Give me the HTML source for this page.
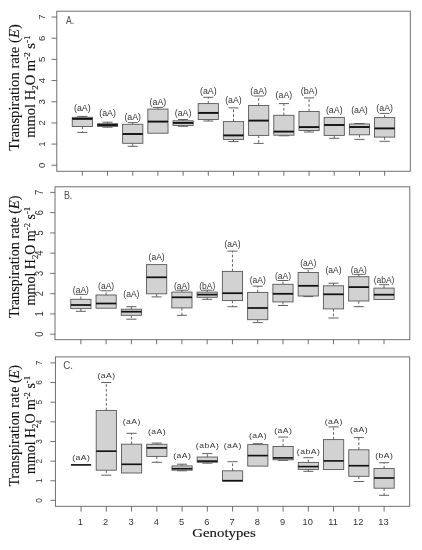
<!DOCTYPE html>
<html lang="en">
<head>
<meta charset="utf-8">
<title>Transpiration rate by genotype</title>
<style>
html,body{margin:0;padding:0;background:#fff;}
body{width:422px;height:550px;overflow:hidden;}
svg{display:block;filter:blur(0.35px);}
.sans{font-family:"Liberation Sans","DejaVu Sans",sans-serif;fill:#333333;text-anchor:middle;}
.pl{fill:#4f4f4f;}
.serif{font-family:"Liberation Serif","DejaVu Serif",serif;fill:#111;stroke:#111;stroke-width:0.12;}
.ln{stroke:#606060;stroke-width:0.9;fill:none;}
.box{stroke:#585858;stroke-width:0.9;fill:#d2d2d2;}
.med{stroke:#111;fill:none;}
.wh{stroke:#505050;stroke-width:0.9;fill:none;stroke-dasharray:2.7 2;}
.cap{stroke:#505050;stroke-width:0.9;fill:none;}
</style>
</head>
<body>
<svg width="422" height="550" viewBox="0 0 422 550">
<rect x="0" y="0" width="422" height="550" fill="#ffffff"/>

<g id="panel-A">
<rect class="ln" x="56.8" y="11.2" width="353.5" height="160.05"/>
<line class="ln" x1="51.5" y1="165.25" x2="56.8" y2="165.25"/>
<text class="sans" font-size="9.6" transform="translate(44.6 165.25) rotate(-90)">0</text>
<line class="ln" x1="51.5" y1="144.08" x2="56.8" y2="144.08"/>
<text class="sans" font-size="9.6" transform="translate(44.6 144.08) rotate(-90)">1</text>
<line class="ln" x1="51.5" y1="122.91" x2="56.8" y2="122.91"/>
<text class="sans" font-size="9.6" transform="translate(44.6 122.91) rotate(-90)">2</text>
<line class="ln" x1="51.5" y1="101.74" x2="56.8" y2="101.74"/>
<text class="sans" font-size="9.6" transform="translate(44.6 101.74) rotate(-90)">3</text>
<line class="ln" x1="51.5" y1="80.57" x2="56.8" y2="80.57"/>
<text class="sans" font-size="9.6" transform="translate(44.6 80.57) rotate(-90)">4</text>
<line class="ln" x1="51.5" y1="59.4" x2="56.8" y2="59.4"/>
<text class="sans" font-size="9.6" transform="translate(44.6 59.4) rotate(-90)">5</text>
<line class="ln" x1="51.5" y1="38.23" x2="56.8" y2="38.23"/>
<text class="sans" font-size="9.6" transform="translate(44.6 38.23) rotate(-90)">6</text>
<line class="ln" x1="51.5" y1="17.06" x2="56.8" y2="17.06"/>
<text class="sans" font-size="9.6" transform="translate(44.6 17.06) rotate(-90)">7</text>
<line class="ln" x1="82.35" y1="171.25" x2="82.35" y2="175.75"/>
<line class="ln" x1="107.54" y1="171.25" x2="107.54" y2="175.75"/>
<line class="ln" x1="132.73" y1="171.25" x2="132.73" y2="175.75"/>
<line class="ln" x1="157.92" y1="171.25" x2="157.92" y2="175.75"/>
<line class="ln" x1="183.11" y1="171.25" x2="183.11" y2="175.75"/>
<line class="ln" x1="208.3" y1="171.25" x2="208.3" y2="175.75"/>
<line class="ln" x1="233.49" y1="171.25" x2="233.49" y2="175.75"/>
<line class="ln" x1="258.68" y1="171.25" x2="258.68" y2="175.75"/>
<line class="ln" x1="283.87" y1="171.25" x2="283.87" y2="175.75"/>
<line class="ln" x1="309.06" y1="171.25" x2="309.06" y2="175.75"/>
<line class="ln" x1="334.25" y1="171.25" x2="334.25" y2="175.75"/>
<line class="ln" x1="359.44" y1="171.25" x2="359.44" y2="175.75"/>
<line class="ln" x1="384.63" y1="171.25" x2="384.63" y2="175.75"/>
<text class="sans pl" font-size="10.3" transform="translate(66 23.6) scale(0.84 1)" style="text-anchor:start;">A.</text>
<line class="wh" x1="82.35" y1="117.3" x2="82.35" y2="116.4"/>
<line class="cap" x1="77.3" y1="116.4" x2="87.4" y2="116.4"/>
<line class="wh" x1="82.35" y1="126.5" x2="82.35" y2="132.4"/>
<line class="cap" x1="77.3" y1="132.4" x2="87.4" y2="132.4"/>
<rect class="box" x="72.25" y="117.3" width="20.2" height="9.2"/>
<line class="med" stroke-width="1.9" x1="72.25" y1="118.9" x2="92.45" y2="118.9"/>
<text class="sans" font-size="8.8" transform="translate(82.35 111.45)">(aA)</text>
<line class="wh" x1="107.54" y1="123.7" x2="107.54" y2="122.2"/>
<line class="cap" x1="102.49" y1="122.2" x2="112.59" y2="122.2"/>
<line class="wh" x1="107.54" y1="126.4" x2="107.54" y2="127.2"/>
<line class="cap" x1="102.49" y1="127.2" x2="112.59" y2="127.2"/>
<rect class="box" x="97.44" y="123.7" width="20.2" height="2.7"/>
<line class="med" stroke-width="1.9" x1="97.44" y1="125" x2="117.64" y2="125"/>
<text class="sans" font-size="8.8" transform="translate(107.54 115.65)">(aA)</text>
<line class="wh" x1="132.73" y1="124.3" x2="132.73" y2="122.6"/>
<line class="cap" x1="127.68" y1="122.6" x2="137.78" y2="122.6"/>
<line class="wh" x1="132.73" y1="143.3" x2="132.73" y2="146.3"/>
<line class="cap" x1="127.68" y1="146.3" x2="137.78" y2="146.3"/>
<rect class="box" x="122.63" y="124.3" width="20.2" height="19"/>
<line class="med" stroke-width="1.9" x1="122.63" y1="134" x2="142.83" y2="134"/>
<text class="sans" font-size="8.8" transform="translate(132.73 120.05)">(aA)</text>
<line class="wh" x1="157.92" y1="109.1" x2="157.92" y2="107.4"/>
<line class="cap" x1="152.87" y1="107.4" x2="162.97" y2="107.4"/>
<rect class="box" x="147.82" y="109.1" width="20.2" height="24.1"/>
<line class="med" stroke-width="1.9" x1="147.82" y1="121.6" x2="168.02" y2="121.6"/>
<text class="sans" font-size="8.8" transform="translate(157.92 105.05)">(aA)</text>
<line class="wh" x1="183.11" y1="120.8" x2="183.11" y2="119.5"/>
<line class="cap" x1="178.06" y1="119.5" x2="188.16" y2="119.5"/>
<line class="wh" x1="183.11" y1="125.4" x2="183.11" y2="126.3"/>
<line class="cap" x1="178.06" y1="126.3" x2="188.16" y2="126.3"/>
<rect class="box" x="173.01" y="120.8" width="20.2" height="4.6"/>
<line class="med" stroke-width="1.9" x1="173.01" y1="122.9" x2="193.21" y2="122.9"/>
<text class="sans" font-size="8.8" transform="translate(183.11 115.85)">(aA)</text>
<line class="wh" x1="208.3" y1="103.6" x2="208.3" y2="97.3"/>
<line class="cap" x1="203.25" y1="97.3" x2="213.35" y2="97.3"/>
<line class="wh" x1="208.3" y1="119.5" x2="208.3" y2="121"/>
<line class="cap" x1="203.25" y1="121" x2="213.35" y2="121"/>
<rect class="box" x="198.2" y="103.6" width="20.2" height="15.9"/>
<line class="med" stroke-width="1.9" x1="198.2" y1="112.9" x2="218.4" y2="112.9"/>
<text class="sans" font-size="8.8" transform="translate(208.3 94.25)">(aA)</text>
<line class="wh" x1="233.49" y1="121.6" x2="233.49" y2="107.9"/>
<line class="cap" x1="228.44" y1="107.9" x2="238.54" y2="107.9"/>
<line class="wh" x1="233.49" y1="139.4" x2="233.49" y2="141.5"/>
<line class="cap" x1="228.44" y1="141.5" x2="238.54" y2="141.5"/>
<rect class="box" x="223.39" y="121.6" width="20.2" height="17.8"/>
<line class="med" stroke-width="1.9" x1="223.39" y1="135.4" x2="243.59" y2="135.4"/>
<text class="sans" font-size="8.8" transform="translate(233.49 103.15)">(aA)</text>
<line class="wh" x1="258.68" y1="105.5" x2="258.68" y2="96"/>
<line class="cap" x1="253.63" y1="96" x2="263.73" y2="96"/>
<line class="wh" x1="258.68" y1="135.4" x2="258.68" y2="143.4"/>
<line class="cap" x1="253.63" y1="143.4" x2="263.73" y2="143.4"/>
<rect class="box" x="248.58" y="105.5" width="20.2" height="29.9"/>
<line class="med" stroke-width="1.9" x1="248.58" y1="120.6" x2="268.78" y2="120.6"/>
<text class="sans" font-size="8.8" transform="translate(258.68 94.05)">(aA)</text>
<line class="wh" x1="283.87" y1="115.3" x2="283.87" y2="103.6"/>
<line class="cap" x1="278.82" y1="103.6" x2="288.92" y2="103.6"/>
<line class="wh" x1="283.87" y1="135.2" x2="283.87" y2="135.8"/>
<line class="cap" x1="278.82" y1="135.8" x2="288.92" y2="135.8"/>
<rect class="box" x="273.77" y="115.3" width="20.2" height="19.9"/>
<line class="med" stroke-width="1.9" x1="273.77" y1="131.6" x2="293.97" y2="131.6"/>
<text class="sans" font-size="8.8" transform="translate(283.87 98.35)">(aA)</text>
<line class="wh" x1="309.06" y1="111.5" x2="309.06" y2="97.9"/>
<line class="cap" x1="304.01" y1="97.9" x2="314.11" y2="97.9"/>
<line class="wh" x1="309.06" y1="130.5" x2="309.06" y2="132"/>
<line class="cap" x1="304.01" y1="132" x2="314.11" y2="132"/>
<rect class="box" x="298.96" y="111.5" width="20.2" height="19"/>
<line class="med" stroke-width="1.9" x1="298.96" y1="127.1" x2="319.16" y2="127.1"/>
<text class="sans" font-size="8.8" transform="translate(309.06 94.25)">(bA)</text>
<line class="wh" x1="334.25" y1="135.4" x2="334.25" y2="138.3"/>
<line class="cap" x1="329.2" y1="138.3" x2="339.3" y2="138.3"/>
<rect class="box" x="324.15" y="117.4" width="20.2" height="18"/>
<line class="med" stroke-width="1.9" x1="324.15" y1="125" x2="344.35" y2="125"/>
<text class="sans" font-size="8.8" transform="translate(334.25 113.15)">(aA)</text>
<line class="wh" x1="359.44" y1="124" x2="359.44" y2="123.5"/>
<line class="cap" x1="354.39" y1="123.5" x2="364.49" y2="123.5"/>
<line class="wh" x1="359.44" y1="134.8" x2="359.44" y2="139.4"/>
<line class="cap" x1="354.39" y1="139.4" x2="364.49" y2="139.4"/>
<rect class="box" x="349.34" y="124" width="20.2" height="10.8"/>
<line class="med" stroke-width="1.9" x1="349.34" y1="127" x2="369.54" y2="127"/>
<text class="sans" font-size="8.8" transform="translate(359.44 113.15)">(aA)</text>
<line class="wh" x1="384.63" y1="117.6" x2="384.63" y2="113.4"/>
<line class="cap" x1="379.58" y1="113.4" x2="389.68" y2="113.4"/>
<line class="wh" x1="384.63" y1="137.1" x2="384.63" y2="141.3"/>
<line class="cap" x1="379.58" y1="141.3" x2="389.68" y2="141.3"/>
<rect class="box" x="374.53" y="117.6" width="20.2" height="19.5"/>
<line class="med" stroke-width="1.9" x1="374.53" y1="128.4" x2="394.73" y2="128.4"/>
<text class="sans" font-size="8.8" transform="translate(384.63 111.25)">(aA)</text>
<text class="serif" font-size="14" text-anchor="middle" transform="translate(19.3 87.5) rotate(-90)" textLength="126.6" lengthAdjust="spacingAndGlyphs">Transpiration rate (<tspan font-style="italic">E</tspan>)</text>
<text class="serif" font-size="14" text-anchor="middle" transform="translate(35.2 86.65) rotate(-90)" textLength="102.3" lengthAdjust="spacingAndGlyphs">mmol H<tspan font-size="8.68" dy="2.8">2</tspan><tspan dy="-2.8">O m</tspan><tspan font-size="8.68" dy="-5">-2</tspan><tspan dy="5"> s</tspan><tspan font-size="8.68" dy="-5">-1</tspan></text>
</g>
<g id="panel-B">
<rect class="ln" x="55" y="186.8" width="354.8" height="152.9"/>
<line class="ln" x1="50.2" y1="334.2" x2="55" y2="334.2"/>
<text class="sans" font-size="9.27" transform="translate(42.6 334.2) rotate(-90) scale(1 1.1)">0</text>
<line class="ln" x1="50.2" y1="313.94" x2="55" y2="313.94"/>
<text class="sans" font-size="9.27" transform="translate(42.6 313.94) rotate(-90) scale(1 1.1)">1</text>
<line class="ln" x1="50.2" y1="293.68" x2="55" y2="293.68"/>
<text class="sans" font-size="9.27" transform="translate(42.6 293.68) rotate(-90) scale(1 1.1)">2</text>
<line class="ln" x1="50.2" y1="273.42" x2="55" y2="273.42"/>
<text class="sans" font-size="9.27" transform="translate(42.6 273.42) rotate(-90) scale(1 1.1)">3</text>
<line class="ln" x1="50.2" y1="253.16" x2="55" y2="253.16"/>
<text class="sans" font-size="9.27" transform="translate(42.6 253.16) rotate(-90) scale(1 1.1)">4</text>
<line class="ln" x1="50.2" y1="232.9" x2="55" y2="232.9"/>
<text class="sans" font-size="9.27" transform="translate(42.6 232.9) rotate(-90) scale(1 1.1)">5</text>
<line class="ln" x1="50.2" y1="212.64" x2="55" y2="212.64"/>
<text class="sans" font-size="9.27" transform="translate(42.6 212.64) rotate(-90) scale(1 1.1)">6</text>
<line class="ln" x1="50.2" y1="192.38" x2="55" y2="192.38"/>
<text class="sans" font-size="9.27" transform="translate(42.6 192.38) rotate(-90) scale(1 1.1)">7</text>
<line class="ln" x1="80.85" y1="339.7" x2="80.85" y2="344.2"/>
<line class="ln" x1="106.11" y1="339.7" x2="106.11" y2="344.2"/>
<line class="ln" x1="131.38" y1="339.7" x2="131.38" y2="344.2"/>
<line class="ln" x1="156.64" y1="339.7" x2="156.64" y2="344.2"/>
<line class="ln" x1="181.91" y1="339.7" x2="181.91" y2="344.2"/>
<line class="ln" x1="207.18" y1="339.7" x2="207.18" y2="344.2"/>
<line class="ln" x1="232.44" y1="339.7" x2="232.44" y2="344.2"/>
<line class="ln" x1="257.71" y1="339.7" x2="257.71" y2="344.2"/>
<line class="ln" x1="282.97" y1="339.7" x2="282.97" y2="344.2"/>
<line class="ln" x1="308.24" y1="339.7" x2="308.24" y2="344.2"/>
<line class="ln" x1="333.5" y1="339.7" x2="333.5" y2="344.2"/>
<line class="ln" x1="358.76" y1="339.7" x2="358.76" y2="344.2"/>
<line class="ln" x1="384.03" y1="339.7" x2="384.03" y2="344.2"/>
<text class="sans pl" font-size="11.2" transform="translate(63.9 198.5) scale(0.8 1)" style="text-anchor:start;">B.</text>
<line class="wh" x1="80.85" y1="299.3" x2="80.85" y2="294.4"/>
<line class="cap" x1="75.8" y1="294.4" x2="85.9" y2="294.4"/>
<line class="wh" x1="80.85" y1="308.6" x2="80.85" y2="311.3"/>
<line class="cap" x1="75.8" y1="311.3" x2="85.9" y2="311.3"/>
<rect class="box" x="70.75" y="299.3" width="20.2" height="9.3"/>
<line class="med" stroke-width="1.75" x1="70.75" y1="305" x2="90.95" y2="305"/>
<text class="sans" font-size="8.5" transform="translate(80.85 293.05)">(aA)</text>
<line class="wh" x1="106.11" y1="295" x2="106.11" y2="290.8"/>
<line class="cap" x1="101.06" y1="290.8" x2="111.16" y2="290.8"/>
<rect class="box" x="96.02" y="295" width="20.2" height="13.2"/>
<line class="med" stroke-width="1.75" x1="96.02" y1="303.5" x2="116.21" y2="303.5"/>
<text class="sans" font-size="8.5" transform="translate(106.11 288.95)">(aA)</text>
<line class="wh" x1="131.38" y1="309.2" x2="131.38" y2="306.7"/>
<line class="cap" x1="126.33" y1="306.7" x2="136.43" y2="306.7"/>
<line class="wh" x1="131.38" y1="315.3" x2="131.38" y2="319.2"/>
<line class="cap" x1="126.33" y1="319.2" x2="136.43" y2="319.2"/>
<rect class="box" x="121.28" y="309.2" width="20.2" height="6.1"/>
<line class="med" stroke-width="1.75" x1="121.28" y1="311.7" x2="141.48" y2="311.7"/>
<text class="sans" font-size="8.5" transform="translate(131.38 297.25)">(aA)</text>
<line class="wh" x1="156.64" y1="293.8" x2="156.64" y2="296.9"/>
<line class="cap" x1="151.59" y1="296.9" x2="161.69" y2="296.9"/>
<rect class="box" x="146.54" y="264.6" width="20.2" height="29.2"/>
<line class="med" stroke-width="1.75" x1="146.54" y1="277.3" x2="166.74" y2="277.3"/>
<text class="sans" font-size="8.5" transform="translate(156.64 260.45)">(aA)</text>
<line class="wh" x1="181.91" y1="292.1" x2="181.91" y2="290.2"/>
<line class="cap" x1="176.86" y1="290.2" x2="186.96" y2="290.2"/>
<line class="wh" x1="181.91" y1="307.9" x2="181.91" y2="315.3"/>
<line class="cap" x1="176.86" y1="315.3" x2="186.96" y2="315.3"/>
<rect class="box" x="171.81" y="292.1" width="20.2" height="15.8"/>
<line class="med" stroke-width="1.75" x1="171.81" y1="297.3" x2="192.01" y2="297.3"/>
<text class="sans" font-size="8.5" transform="translate(181.91 288.95)">(aA)</text>
<line class="wh" x1="207.18" y1="292.1" x2="207.18" y2="290.2"/>
<line class="cap" x1="202.12" y1="290.2" x2="212.23" y2="290.2"/>
<line class="wh" x1="207.18" y1="297.3" x2="207.18" y2="299.3"/>
<line class="cap" x1="202.12" y1="299.3" x2="212.23" y2="299.3"/>
<rect class="box" x="197.08" y="292.1" width="20.2" height="5.2"/>
<line class="med" stroke-width="1.75" x1="197.08" y1="294.6" x2="217.28" y2="294.6"/>
<text class="sans" font-size="8.5" transform="translate(207.18 288.95)">(bA)</text>
<line class="wh" x1="232.44" y1="271.4" x2="232.44" y2="251.1"/>
<line class="cap" x1="227.39" y1="251.1" x2="237.49" y2="251.1"/>
<line class="wh" x1="232.44" y1="300.6" x2="232.44" y2="306.7"/>
<line class="cap" x1="227.39" y1="306.7" x2="237.49" y2="306.7"/>
<rect class="box" x="222.34" y="271.4" width="20.2" height="29.2"/>
<line class="med" stroke-width="1.75" x1="222.34" y1="293.2" x2="242.54" y2="293.2"/>
<text class="sans" font-size="8.5" transform="translate(232.44 246.75)">(aA)</text>
<line class="wh" x1="257.71" y1="292.4" x2="257.71" y2="286.2"/>
<line class="cap" x1="252.66" y1="286.2" x2="262.76" y2="286.2"/>
<line class="wh" x1="257.71" y1="319.7" x2="257.71" y2="322.6"/>
<line class="cap" x1="252.66" y1="322.6" x2="262.76" y2="322.6"/>
<rect class="box" x="247.61" y="292.4" width="20.2" height="27.3"/>
<line class="med" stroke-width="1.75" x1="247.61" y1="308" x2="267.81" y2="308"/>
<text class="sans" font-size="8.5" transform="translate(257.71 283.35)">(aA)</text>
<line class="wh" x1="282.97" y1="284.3" x2="282.97" y2="280.5"/>
<line class="cap" x1="277.92" y1="280.5" x2="288.02" y2="280.5"/>
<line class="wh" x1="282.97" y1="301.9" x2="282.97" y2="305.5"/>
<line class="cap" x1="277.92" y1="305.5" x2="288.02" y2="305.5"/>
<rect class="box" x="272.87" y="284.3" width="20.2" height="17.6"/>
<line class="med" stroke-width="1.75" x1="272.87" y1="293.8" x2="293.07" y2="293.8"/>
<text class="sans" font-size="8.5" transform="translate(282.97 278.95)">(aA)</text>
<line class="wh" x1="308.24" y1="272.5" x2="308.24" y2="268.7"/>
<line class="cap" x1="303.19" y1="268.7" x2="313.29" y2="268.7"/>
<line class="wh" x1="308.24" y1="296" x2="308.24" y2="296.6"/>
<line class="cap" x1="303.19" y1="296.6" x2="313.29" y2="296.6"/>
<rect class="box" x="298.13" y="272.5" width="20.2" height="23.5"/>
<line class="med" stroke-width="1.75" x1="298.13" y1="285.8" x2="318.34" y2="285.8"/>
<text class="sans" font-size="8.5" transform="translate(308.24 266.25)">(aA)</text>
<line class="wh" x1="333.5" y1="285.8" x2="333.5" y2="283.2"/>
<line class="cap" x1="328.45" y1="283.2" x2="338.55" y2="283.2"/>
<line class="wh" x1="333.5" y1="308.9" x2="333.5" y2="318"/>
<line class="cap" x1="328.45" y1="318" x2="338.55" y2="318"/>
<rect class="box" x="323.4" y="285.8" width="20.2" height="23.1"/>
<line class="med" stroke-width="1.75" x1="323.4" y1="294.3" x2="343.6" y2="294.3"/>
<text class="sans" font-size="8.5" transform="translate(333.5 272.55)">(aA)</text>
<line class="wh" x1="358.76" y1="276.7" x2="358.76" y2="274.4"/>
<line class="cap" x1="353.71" y1="274.4" x2="363.81" y2="274.4"/>
<line class="wh" x1="358.76" y1="301" x2="358.76" y2="306.7"/>
<line class="cap" x1="353.71" y1="306.7" x2="363.81" y2="306.7"/>
<rect class="box" x="348.66" y="276.7" width="20.2" height="24.3"/>
<line class="med" stroke-width="1.75" x1="348.66" y1="287.1" x2="368.87" y2="287.1"/>
<text class="sans" font-size="8.5" transform="translate(358.76 272.55)">(aA)</text>
<line class="wh" x1="384.03" y1="288.1" x2="384.03" y2="284.7"/>
<line class="cap" x1="378.98" y1="284.7" x2="389.08" y2="284.7"/>
<rect class="box" x="373.93" y="288.1" width="20.2" height="11.4"/>
<line class="med" stroke-width="1.75" x1="373.93" y1="294.7" x2="394.13" y2="294.7"/>
<text class="sans" font-size="8.5" transform="translate(384.03 282.75)">(abA)</text>
<text class="serif" font-size="14" text-anchor="middle" transform="translate(19.3 256.8) rotate(-90)" textLength="122.6" lengthAdjust="spacingAndGlyphs">Transpiration rate (<tspan font-style="italic">E</tspan>)</text>
<text class="serif" font-size="14" text-anchor="middle" transform="translate(35.1 256.1) rotate(-90)" textLength="98.6" lengthAdjust="spacingAndGlyphs">mmol H<tspan font-size="8.68" dy="2.8">2</tspan><tspan dy="-2.8">O m</tspan><tspan font-size="8.68" dy="-5">-2</tspan><tspan dy="5"> s</tspan><tspan font-size="8.68" dy="-5">-1</tspan></text>
</g>
<g id="panel-C">
<rect class="ln" x="55.4" y="356.9" width="354.3" height="149.4"/>
<line class="ln" x1="50.4" y1="500.4" x2="55.4" y2="500.4"/>
<text class="sans" font-size="9.16" transform="translate(41.6 500.4) rotate(-90) scale(0.9 1.09)">0</text>
<line class="ln" x1="50.4" y1="480.76" x2="55.4" y2="480.76"/>
<text class="sans" font-size="9.16" transform="translate(41.6 480.76) rotate(-90) scale(0.9 1.09)">1</text>
<line class="ln" x1="50.4" y1="461.12" x2="55.4" y2="461.12"/>
<text class="sans" font-size="9.16" transform="translate(41.6 461.12) rotate(-90) scale(0.9 1.09)">2</text>
<line class="ln" x1="50.4" y1="441.48" x2="55.4" y2="441.48"/>
<text class="sans" font-size="9.16" transform="translate(41.6 441.48) rotate(-90) scale(0.9 1.09)">3</text>
<line class="ln" x1="50.4" y1="421.84" x2="55.4" y2="421.84"/>
<text class="sans" font-size="9.16" transform="translate(41.6 421.84) rotate(-90) scale(0.9 1.09)">4</text>
<line class="ln" x1="50.4" y1="402.2" x2="55.4" y2="402.2"/>
<text class="sans" font-size="9.16" transform="translate(41.6 402.2) rotate(-90) scale(0.9 1.09)">5</text>
<line class="ln" x1="50.4" y1="382.56" x2="55.4" y2="382.56"/>
<text class="sans" font-size="9.16" transform="translate(41.6 382.56) rotate(-90) scale(0.9 1.09)">6</text>
<line class="ln" x1="50.4" y1="362.92" x2="55.4" y2="362.92"/>
<text class="sans" font-size="9.16" transform="translate(41.6 362.92) rotate(-90) scale(0.9 1.09)">7</text>
<line class="ln" x1="81.05" y1="506.3" x2="81.05" y2="511.6"/>
<line class="ln" x1="106.3" y1="506.3" x2="106.3" y2="511.6"/>
<line class="ln" x1="131.56" y1="506.3" x2="131.56" y2="511.6"/>
<line class="ln" x1="156.81" y1="506.3" x2="156.81" y2="511.6"/>
<line class="ln" x1="182.07" y1="506.3" x2="182.07" y2="511.6"/>
<line class="ln" x1="207.32" y1="506.3" x2="207.32" y2="511.6"/>
<line class="ln" x1="232.58" y1="506.3" x2="232.58" y2="511.6"/>
<line class="ln" x1="257.83" y1="506.3" x2="257.83" y2="511.6"/>
<line class="ln" x1="283.09" y1="506.3" x2="283.09" y2="511.6"/>
<line class="ln" x1="308.34" y1="506.3" x2="308.34" y2="511.6"/>
<line class="ln" x1="333.6" y1="506.3" x2="333.6" y2="511.6"/>
<line class="ln" x1="358.86" y1="506.3" x2="358.86" y2="511.6"/>
<line class="ln" x1="384.11" y1="506.3" x2="384.11" y2="511.6"/>
<text class="sans pl" font-size="10.1" transform="translate(63.2 368.9) scale(0.97 1)" style="text-anchor:start;">C.</text>
<line class="med" stroke-width="1.65" x1="70.95" y1="464.9" x2="91.15" y2="464.9"/>
<text class="sans" font-size="7.9" transform="translate(81.27 459.75) scale(1.09 1)" style="letter-spacing:0.45px;">(aA)</text>
<line class="wh" x1="106.3" y1="410.4" x2="106.3" y2="382.5"/>
<line class="cap" x1="101.25" y1="382.5" x2="111.35" y2="382.5"/>
<line class="wh" x1="106.3" y1="470.2" x2="106.3" y2="475.2"/>
<line class="cap" x1="101.25" y1="475.2" x2="111.35" y2="475.2"/>
<rect class="box" x="96.2" y="410.4" width="20.2" height="59.8"/>
<line class="med" stroke-width="1.65" x1="96.2" y1="451.2" x2="116.4" y2="451.2"/>
<text class="sans" font-size="7.9" transform="translate(106.53 378.35) scale(1.09 1)" style="letter-spacing:0.45px;">(aA)</text>
<line class="wh" x1="131.56" y1="444.2" x2="131.56" y2="433.3"/>
<line class="cap" x1="126.51" y1="433.3" x2="136.61" y2="433.3"/>
<rect class="box" x="121.46" y="444.2" width="20.2" height="28.8"/>
<line class="med" stroke-width="1.65" x1="121.46" y1="464.3" x2="141.66" y2="464.3"/>
<text class="sans" font-size="7.9" transform="translate(131.78 424.25) scale(1.09 1)" style="letter-spacing:0.45px;">(aA)</text>
<line class="wh" x1="156.81" y1="444.3" x2="156.81" y2="443.1"/>
<line class="cap" x1="151.76" y1="443.1" x2="161.87" y2="443.1"/>
<line class="wh" x1="156.81" y1="456.4" x2="156.81" y2="462.3"/>
<line class="cap" x1="151.76" y1="462.3" x2="161.87" y2="462.3"/>
<rect class="box" x="146.72" y="444.3" width="20.2" height="12.1"/>
<line class="med" stroke-width="1.65" x1="146.72" y1="447.9" x2="166.91" y2="447.9"/>
<text class="sans" font-size="7.9" transform="translate(157.04 433.85) scale(1.09 1)" style="letter-spacing:0.45px;">(aA)</text>
<line class="wh" x1="182.07" y1="465.9" x2="182.07" y2="464.2"/>
<line class="cap" x1="177.02" y1="464.2" x2="187.12" y2="464.2"/>
<line class="wh" x1="182.07" y1="470.2" x2="182.07" y2="470.8"/>
<line class="cap" x1="177.02" y1="470.8" x2="187.12" y2="470.8"/>
<rect class="box" x="171.97" y="465.9" width="20.2" height="4.3"/>
<line class="med" stroke-width="1.65" x1="171.97" y1="468.7" x2="192.17" y2="468.7"/>
<text class="sans" font-size="7.9" transform="translate(182.29 458.05) scale(1.09 1)" style="letter-spacing:0.45px;">(aA)</text>
<line class="wh" x1="207.32" y1="457" x2="207.32" y2="453.6"/>
<line class="cap" x1="202.27" y1="453.6" x2="212.38" y2="453.6"/>
<line class="wh" x1="207.32" y1="462.3" x2="207.32" y2="463.2"/>
<line class="cap" x1="202.27" y1="463.2" x2="212.38" y2="463.2"/>
<rect class="box" x="197.22" y="457" width="20.2" height="5.3"/>
<line class="med" stroke-width="1.65" x1="197.22" y1="461.1" x2="217.42" y2="461.1"/>
<text class="sans" font-size="7.9" transform="translate(207.55 448.05) scale(1.09 1)" style="letter-spacing:0.45px;">(abA)</text>
<line class="wh" x1="232.58" y1="470.8" x2="232.58" y2="461.7"/>
<line class="cap" x1="227.53" y1="461.7" x2="237.63" y2="461.7"/>
<rect class="box" x="222.48" y="470.8" width="20.2" height="10.2"/>
<line class="med" stroke-width="1.65" x1="222.48" y1="480.7" x2="242.68" y2="480.7"/>
<text class="sans" font-size="7.9" transform="translate(232.8 447.65) scale(1.09 1)" style="letter-spacing:0.45px;">(aA)</text>
<line class="wh" x1="257.83" y1="444.6" x2="257.83" y2="443.7"/>
<line class="cap" x1="252.78" y1="443.7" x2="262.88" y2="443.7"/>
<rect class="box" x="247.73" y="444.6" width="20.2" height="21.5"/>
<line class="med" stroke-width="1.65" x1="247.73" y1="455.6" x2="267.94" y2="455.6"/>
<text class="sans" font-size="7.9" transform="translate(258.06 437.75) scale(1.09 1)" style="letter-spacing:0.45px;">(aA)</text>
<line class="wh" x1="283.09" y1="446.5" x2="283.09" y2="437.1"/>
<line class="cap" x1="278.04" y1="437.1" x2="288.14" y2="437.1"/>
<line class="wh" x1="283.09" y1="459.8" x2="283.09" y2="460.4"/>
<line class="cap" x1="278.04" y1="460.4" x2="288.14" y2="460.4"/>
<rect class="box" x="272.99" y="446.5" width="20.2" height="13.3"/>
<line class="med" stroke-width="1.65" x1="272.99" y1="457.9" x2="293.19" y2="457.9"/>
<text class="sans" font-size="7.9" transform="translate(283.31 433.45) scale(1.09 1)" style="letter-spacing:0.45px;">(aA)</text>
<line class="wh" x1="308.34" y1="462.4" x2="308.34" y2="457.7"/>
<line class="cap" x1="303.29" y1="457.7" x2="313.39" y2="457.7"/>
<line class="wh" x1="308.34" y1="469.4" x2="308.34" y2="471.3"/>
<line class="cap" x1="303.29" y1="471.3" x2="313.39" y2="471.3"/>
<rect class="box" x="298.24" y="462.4" width="20.2" height="7"/>
<line class="med" stroke-width="1.65" x1="298.24" y1="466.6" x2="318.44" y2="466.6"/>
<text class="sans" font-size="7.9" transform="translate(308.57 453.65) scale(1.09 1)" style="letter-spacing:0.45px;">(abA)</text>
<line class="wh" x1="333.6" y1="439.6" x2="333.6" y2="426.9"/>
<line class="cap" x1="328.55" y1="426.9" x2="338.65" y2="426.9"/>
<rect class="box" x="323.5" y="439.6" width="20.2" height="30"/>
<line class="med" stroke-width="1.65" x1="323.5" y1="460.9" x2="343.7" y2="460.9"/>
<text class="sans" font-size="7.9" transform="translate(333.82 424.25) scale(1.09 1)" style="letter-spacing:0.45px;">(aA)</text>
<line class="wh" x1="358.86" y1="449.8" x2="358.86" y2="437.6"/>
<line class="cap" x1="353.81" y1="437.6" x2="363.91" y2="437.6"/>
<line class="wh" x1="358.86" y1="476.3" x2="358.86" y2="481.5"/>
<line class="cap" x1="353.81" y1="481.5" x2="363.91" y2="481.5"/>
<rect class="box" x="348.75" y="449.8" width="20.2" height="26.5"/>
<line class="med" stroke-width="1.65" x1="348.75" y1="465.7" x2="368.96" y2="465.7"/>
<text class="sans" font-size="7.9" transform="translate(359.08 432.15) scale(1.09 1)" style="letter-spacing:0.45px;">(aA)</text>
<line class="wh" x1="384.11" y1="468.5" x2="384.11" y2="462.7"/>
<line class="cap" x1="379.06" y1="462.7" x2="389.16" y2="462.7"/>
<line class="wh" x1="384.11" y1="488.2" x2="384.11" y2="495.3"/>
<line class="cap" x1="379.06" y1="495.3" x2="389.16" y2="495.3"/>
<rect class="box" x="374.01" y="468.5" width="20.2" height="19.7"/>
<line class="med" stroke-width="1.65" x1="374.01" y1="478" x2="394.21" y2="478"/>
<text class="sans" font-size="7.9" transform="translate(384.34 458.05) scale(1.09 1)" style="letter-spacing:0.45px;">(bA)</text>
<text class="serif" font-size="14" text-anchor="middle" transform="translate(19.3 425.8) rotate(-90)" textLength="121.4" lengthAdjust="spacingAndGlyphs">Transpiration rate (<tspan font-style="italic">E</tspan>)</text>
<text class="serif" font-size="14" text-anchor="middle" transform="translate(35.1 424.95) rotate(-90)" textLength="97.9" lengthAdjust="spacingAndGlyphs">mmol H<tspan font-size="8.68" dy="2.8">2</tspan><tspan dy="-2.8">O m</tspan><tspan font-size="8.68" dy="-5">-2</tspan><tspan dy="5"> s</tspan><tspan font-size="8.68" dy="-5">-1</tspan></text>
</g>
<g id="xlabels">
<text class="sans" font-size="9.3" transform="translate(80.45 525)">1</text>
<text class="sans" font-size="9.3" transform="translate(105.7 525)">2</text>
<text class="sans" font-size="9.3" transform="translate(130.96 525)">3</text>
<text class="sans" font-size="9.3" transform="translate(156.22 525)">4</text>
<text class="sans" font-size="9.3" transform="translate(181.47 525)">5</text>
<text class="sans" font-size="9.3" transform="translate(206.72 525)">6</text>
<text class="sans" font-size="9.3" transform="translate(231.98 525)">7</text>
<text class="sans" font-size="9.3" transform="translate(257.23 525)">8</text>
<text class="sans" font-size="9.3" transform="translate(282.49 525)">9</text>
<text class="sans" font-size="9.3" transform="translate(307.74 525)">10</text>
<text class="sans" font-size="9.3" transform="translate(333 525)">11</text>
<text class="sans" font-size="9.3" transform="translate(358.25 525)">12</text>
<text class="sans" font-size="9.3" transform="translate(383.51 525)">13</text>
</g>
<text class="serif" font-size="13.3" x="192.3" y="537.2" textLength="63.4" lengthAdjust="spacingAndGlyphs">Genotypes</text>
</svg>
</body>
</html>
